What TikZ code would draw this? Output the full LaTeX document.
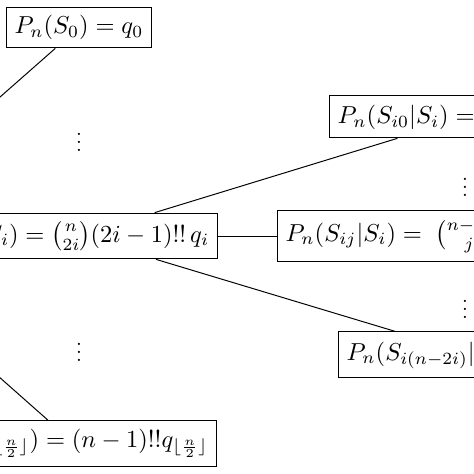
\documentclass[tikz,border=0pt]{standalone}
\usepackage{amsmath}
\usetikzlibrary{positioning}
\tikzset{%
  every prob/.style={
    rectangle,
    draw
  },
  prob dots/.style={
    draw=none,
    inner sep=0pt,
    scale=0.85
  },
}

\begin{document}
\begin{tikzpicture}[x=0.408pt,y=-0.408pt]
        \useasboundingbox (0,0) rectangle (474,474);
        \clip (0,0) rectangle (474,474);

        \coordinate (root) at (-159,237);

        \node[every prob] (s0) at (79,27.5) {$P_n(S_0) = q_0$};
        \node[every prob,anchor=east] (si) at (218,236) {$P_n(S_i) = \binom{n}{2i}(2i-1)!!\,q_i$};
        \node[every prob,anchor=east,minimum height=18.4pt] (sh) at (217,443.5) {$P_n(S_{\lfloor\frac{n}{2}\rfloor}) = (n-1)!!q_{\lfloor\frac{n}{2}\rfloor}$};

        \node[every prob,anchor=west] (si0) at (329,116.5) {$P_n(S_{i0}|S_i) = (1-r)^{n-2i}$};
        \node[every prob,anchor=west] (sij) at (277,236) {$P_n(S_{ij}|S_i) = \;\binom{n-2i}{j}r^j(1-r)^{n-2i-j}$};
        \node[every prob,anchor=west] (sin) at (338,354.5) {$P_n(S_{i(n-2i)}|S_i) = r^{n-2i}$};

        \node[prob dots] (d1) at (79,136) {$\vdots$};
        \node[prob dots] (d2) at (79,346) {$\vdots$};
        \node[prob dots] (d3) at (465,181) {$\vdots$};
        \node[prob dots] (d4) at (465,303) {$\vdots$};

        \draw (root) -- (s0);
        \draw (root) -- (si);
        \draw (root) -- (sh);
        \draw (si) -- (si0);
        \draw (si) -- (sij);
        \draw (si) -- (sin);
    \end{tikzpicture}
\end{document}
